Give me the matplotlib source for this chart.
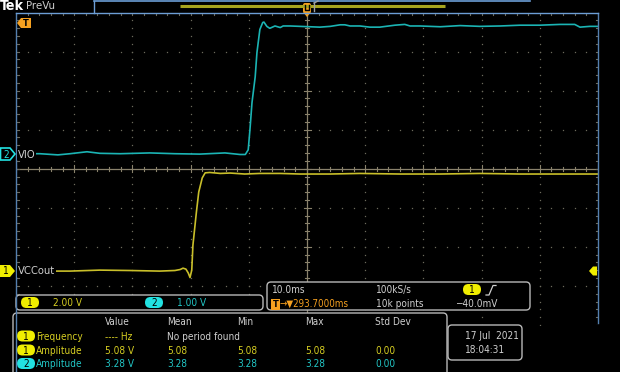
''' plot.py
Redraw of a Tek scope screen: VIO (ch2) and VCCout (ch1) power-up step.
'''

import numpy as np
import matplotlib
matplotlib.use('Agg')
import matplotlib.pyplot as plt
from matplotlib import font_manager
from matplotlib.patches import FancyBboxPatch, Polygon, Rectangle

# --- waveform data, time in ms from trigger, volts ---
ch2_t = [-50.0, -45.9, -42.8, -40.7, -37.8, -35.6, -32.1, -27.0, -22.7, -18.4,
         -14.1, -11.5, -10.6, -10.1, -9.8, -9.45, -8.9, -8.6, -8.1, -7.6,
         -7.4, -6.9, -6.4, -5.5, -4.6, -4.1, -2.9, -1.2, 0.5, 2.2,
         4.0, 5.7, 6.5, 7.4, 9.1, 10.8, 12.5, 15.1, 16.8, 17.7,
         19.4, 22.9, 26.3, 29.7, 33.2, 36.6, 40.0, 43.5, 46.0, 46.9,
         48.6, 50.0]
ch2_v = [0.0, 0.0, -0.03, 0.0, 0.05, 0.01, 0.0, 0.02, 0.0, -0.01,
         0.02, -0.02, -0.02, 0.1, 0.62, 1.31, 1.97, 2.59, 3.18, 3.36,
         3.37, 3.26, 3.21, 3.27, 3.23, 3.27, 3.27, 3.26, 3.25, 3.24,
         3.26, 3.30, 3.30, 3.27, 3.27, 3.24, 3.24, 3.29, 3.31, 3.27,
         3.27, 3.25, 3.28, 3.26, 3.27, 3.29, 3.29, 3.31, 3.31, 3.24,
         3.26, 3.26]

ch1_t = [-50.0, -45.9, -40.7, -35.6, -30.4, -25.3, -22.7, -21.8, -21.3, -20.8,
         -20.4, -20.1, -19.8, -19.6, -19.0, -18.6, -18.0, -17.5, -16.7, -14.9,
         -13.2, -10.7, -8.1, -4.6, -1.2, 3.95, 9.1, 16.0, 22.9, 29.7,
         36.6, 43.5, 50.0]
ch1_v = [0.0, 0.0, 0.0, 0.05, 0.03, 0.0, 0.03, 0.08, 0.15, 0.10,
         -0.10, -0.33, 0.05, 1.33, 3.03, 4.05, 4.77, 5.03, 5.05, 5.0,
         5.02, 4.97, 5.0, 5.0, 4.97, 4.97, 5.0, 4.97, 4.97, 5.0,
         4.97, 4.97, 4.97]

# scope settings
ms_per_div = 10.0
ch1_vdiv, ch2_vdiv = 2.0, 1.0
ch1_pos, ch2_pos = -2.62, 0.385   # ground position, divisions

meas_cols = ['Value', 'Mean', 'Min', 'Max', 'Std Dev']
meas_rows = [
    ('1', 'Frequency', ['---- Hz', 'No period found', '', '', '']),
    ('1', 'Amplitude', ['5.08 V', '5.08', '5.08', '5.08', '0.00']),
    ('2', 'Amplitude', ['3.28 V', '3.28', '3.28', '3.28', '0.00']),
]

BLACK = '#000000'
YEL = '#c9bf2a'
YEL_TXT = '#d6ce22'
YEL_PILL = '#f0ee00'
CYAN = '#1bb4b4'
CYAN_TXT = '#22c6c6'
CYAN_PILL = '#22e2e2'
GREY_TXT = '#cfcfcf'
ORANGE = '#f5a020'
BLUE = '#5580b0'
DOT = '#6c6a5c'
CENTER = '#8a826c'

fonts = font_manager.fontManager.ttflist
names = {f.name for f in fonts}
has_cond = any(f.name == 'DejaVu Sans' and f.stretch == 'condensed' for f in fonts)
if 'Liberation Sans Narrow' in names:
    FONT, FS = 'Liberation Sans Narrow', 8.0
elif has_cond:
    FONT, FS = 'DejaVu Sans', 7.2
    plt.rcParams['font.stretch'] = 'condensed'
else:
    FONT, FS = 'DejaVu Sans', 6.8
plt.rcParams['font.family'] = [FONT, 'DejaVu Sans']

fig = plt.figure(figsize=(6.2, 3.72), dpi=100)
fig.patch.set_facecolor(BLACK)

# graticule axes, 10 x 8 divisions
gl, gr, gt, gb = 16, 598, 12.5, 325
ax = fig.add_axes([gl / 620, (372 - gb) / 372, (gr - gl) / 620, (gb - gt) / 372])
ax.set_facecolor(BLACK)
ax.set_xlim(-5, 5)
ax.set_ylim(-4, 4)
ax.axis('off')

minor = np.arange(-5, 5.001, 0.2)
minor_y = np.arange(-4, 4.001, 0.2)
for xv in range(-4, 5):
    if xv == 0:
        continue
    ax.plot(np.full_like(minor_y, xv), minor_y, ls='none', marker='s',
            ms=0.9, mew=0, color=DOT)
for yv in range(-3, 4):
    if yv == 0:
        continue
    ax.plot(minor, np.full_like(minor, yv), ls='none', marker='s',
            ms=0.9, mew=0, color=DOT)

# center cross with ticks
ax.axhline(0, color=CENTER, lw=0.9)
ax.axvline(0, color=CENTER, lw=0.9)
px_x = 10 / (gr - gl)
px_y = 8 / (gb - gt)
for xv in minor:
    h = 3.5 if abs(xv - round(xv)) < 1e-6 else 2.0
    ax.plot([xv, xv], [-h * px_y, h * px_y], color=CENTER, lw=0.8)
    ax.plot([xv, xv], [4, 4 - 2.5 * px_y], color=DOT, lw=0.8)
for yv in minor_y:
    h = 3.5 if abs(yv - round(yv)) < 1e-6 else 2.0
    ax.plot([-h * px_x, h * px_x], [yv, yv], color=CENTER, lw=0.8)
    ax.plot([-5, -5 + 2.5 * px_x], [yv, yv], color=DOT, lw=0.8)
    ax.plot([5, 5 - 2.5 * px_x], [yv, yv], color=DOT, lw=0.8)

# traces
ax.plot(np.array(ch2_t) / ms_per_div, np.array(ch2_v) / ch2_vdiv + ch2_pos,
        color=CYAN, lw=1.2, solid_joinstyle='round')
ax.plot(np.array(ch1_t) / ms_per_div, np.array(ch1_v) / ch1_vdiv + ch1_pos,
        color=YEL, lw=1.2, solid_joinstyle='round')

# overlay in screen pixels
ui = fig.add_axes([0, 0, 1, 1], zorder=5)
ui.set_xlim(0, 620)
ui.set_ylim(372, 0)
ui.patch.set_alpha(0)
ui.axis('off')


def txt(x, y, s, color=GREY_TXT, size=FS, **kw):
    kw.setdefault('va', 'center')
    ui.text(x, y, s, color=color, fontsize=size, **kw)


def rbox(x0, y0, x1, y1, ec='#b8b8b8', r=4):
    ui.add_patch(FancyBboxPatch((x0, y0), x1 - x0, y1 - y0,
                                boxstyle='round,pad=0,rounding_size=%g' % r,
                                fc=BLACK, ec=ec, lw=1.0))


def pill(x0, yc, label, fc, w=18, h=11):
    ui.add_patch(FancyBboxPatch((x0, yc - h / 2), w, h,
                                boxstyle='round,pad=0,rounding_size=%g' % (h / 2),
                                fc=fc, ec='none'))
    txt(x0 + w / 2, yc + 0.5, label, color=BLACK, ha='center')


# graticule borders
ui.plot([gl, gl], [gt, 372], color=BLUE, lw=1.0)
ui.plot([gr, gr], [gt, gb - 2], color=BLUE, lw=1.0)
ui.plot([gl, gr], [gt, gt], color='#6c9ed6', lw=1.0)

# status bar
txt(0, 6, 'Tek', color='white', size=FS + 3, weight='bold')
txt(26, 6, 'PreVu', color=GREY_TXT, size=FS + 1)
ui.plot([94, 530], [0.6, 0.6], color='#6c9ed6', lw=1.2)
ui.plot([94, 94], [0.6, gt], color='#6c9ed6', lw=1.0)
ui.plot([180, 445], [6, 6], color='#a8a41e', lw=2.2, solid_capstyle='butt')
ui.add_patch(FancyBboxPatch((303, 3), 8, 10, boxstyle='round,pad=0,rounding_size=2',
                            fc=ORANGE, ec='none'))
ui.add_patch(Polygon([(303, 12), (311, 12), (307, 17)], fc=ORANGE, ec='none'))
ui.plot([305, 305, 309, 309], [5, 10, 10, 5], color=BLACK, lw=1.0)
ui.plot([314, 314], [11, 3], color='#a0a0a0', lw=1.0)
ui.plot([314, 318], [3, 1], color='#a0a0a0', lw=1.0)

# trigger marker, left
ui.add_patch(Polygon([(17, 23), (21, 18), (31, 18), (31, 28), (21, 28)],
                     fc=ORANGE, ec='none'))
txt(25.5, 23.5, 'T', color=BLACK, size=FS - 0.5, ha='center', weight='bold')

# channel ground markers
ui.add_patch(Polygon([(0.5, 148), (10, 148), (15, 154), (10, 160), (0.5, 160)],
                     fc=BLACK, ec=CYAN_PILL, lw=1.2))
txt(6.5, 154.5, '2', color=CYAN_PILL, ha='center')
txt(18, 154.5, 'VIO', color=GREY_TXT, size=FS + 0.8,
    bbox=dict(fc=BLACK, ec='none', pad=0.6))
ui.add_patch(Polygon([(0, 265), (10, 265), (15, 271), (10, 277), (0, 277)],
                     fc=YEL_PILL, ec='none'))
txt(6, 271.5, '1', color=BLACK, ha='center')
txt(18, 271.5, 'VCCout', color=GREY_TXT, size=FS + 0.8,
    bbox=dict(fc=BLACK, ec='none', pad=0.6))

# trigger level arrow, right
ui.add_patch(Polygon([(589, 271), (593, 266.5), (597, 266.5), (597, 275.5), (593, 275.5)],
                     fc=YEL_PILL, ec='none'))

# vertical scale box
rbox(16, 295, 263, 310)
pill(21, 302.5, '1', YEL_PILL)
txt(53, 303, '%.2f V' % ch1_vdiv, color=YEL_TXT)
pill(145, 302.5, '2', CYAN_PILL)
txt(177, 303, '%.2f V' % ch2_vdiv, color=CYAN_TXT)

# horizontal box
rbox(267, 282, 530, 310)
txt(272, 290, '%.1fms' % ms_per_div)
txt(376, 290, '100kS/s')
pill(463, 289.5, '1', YEL_PILL)
ui.plot([486, 489, 493, 496], [295, 295, 285.5, 285.5], color=GREY_TXT, lw=0.9)
ui.add_patch(Rectangle((271, 298.5), 9, 11, fc=ORANGE, ec='none'))
txt(275.5, 304.5, 'T', color=BLACK, size=FS - 0.5, ha='center', weight='bold')
txt(280, 304, '→▼293.7000ms', color=ORANGE, family=['DejaVu Sans'], size=FS - 0.2)
txt(376, 304, '10k points')
txt(455, 304, '−40.0mV')

# measurement box
rbox(13, 313, 447, 385)
col_x = [105, 167, 237, 305, 375]
for cx, name in zip(col_x, meas_cols):
    txt(cx, 322, name)
for (ch, name, vals), ry in zip(meas_rows, [336, 350, 363.5]):
    fc, tc = (YEL_PILL, YEL_TXT) if ch == '1' else (CYAN_PILL, CYAN_TXT)
    pill(17, ry, ch, fc)
    txt(36, ry + 0.5, name, color=tc)
    for cx, v in zip(col_x, vals):
        if v:
            c = GREY_TXT if v.startswith('No') else tc
            txt(cx, ry + 0.5, v, color=c)

# date box
rbox(448, 325, 522, 360)
txt(465, 336, '17 Jul  2021')
txt(465, 350, '18:04:31')

fig.savefig('out.png', dpi=100, facecolor=BLACK)
